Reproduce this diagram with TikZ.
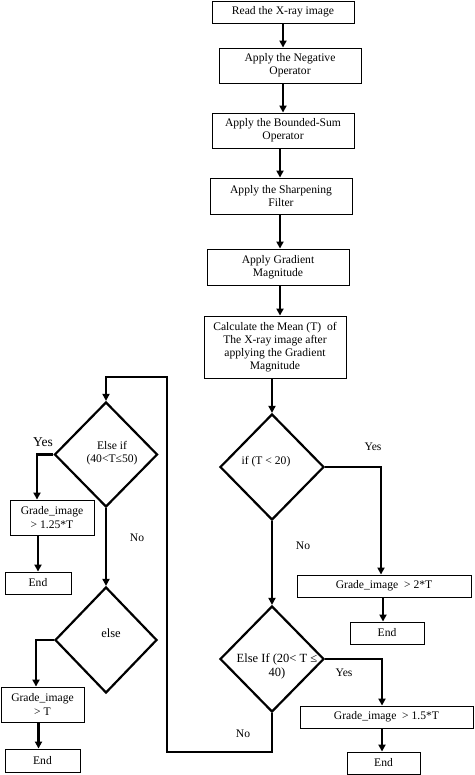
\documentclass[tikz,border=0pt]{standalone}
\usepackage{fontspec}
\setmainfont{Liberation Serif}
\usetikzlibrary{shapes.geometric,arrows.meta}
\begin{document}
\begin{tikzpicture}[x=1pt,y=-1pt,
  font=\fontsize{11.6}{13.2}\selectfont,
  box/.style={draw,line width=0.9pt,align=center,inner sep=0pt},
  dia/.style={draw,diamond,line width=2.2pt,inner sep=0pt},
  arr/.style={line width=2.2pt,-{Triangle[length=7pt,width=7pt]}},
  lbl/.style={inner sep=0pt,align=center}]
\useasboundingbox (0,0) rectangle (474,775);
% process boxes
\node[box,minimum width=142pt,minimum height=22pt] (b1) at (283,12) {Read the X-ray image};
\node[box,minimum width=142pt,minimum height=35pt] (b2) at (290,65.5) {Apply the Negative\\Operator};
\node[box,minimum width=142pt,minimum height=35pt] (b3) at (283,130.5) {Apply the Bounded-Sum\\Operator};
\node[box,minimum width=142pt,minimum height=36pt] (b4) at (281,196) {Apply the Sharpening\\Filter};
\node[box,minimum width=142pt,minimum height=36pt] (b5) at (278,267) {Apply Gradient\\Magnitude};
\node[box,minimum width=142pt,minimum height=62pt] (b6) at (275,347) {Calculate the Mean (T)~ of\\The X-ray image after\\applying the Gradient\\Magnitude};
% decisions
\node[dia,minimum width=104pt,minimum height=106pt] (d1) at (272,467) {};
\node[dia,minimum width=104pt,minimum height=106pt] (d2) at (272,659) {};
\node[dia,minimum width=103pt,minimum height=105pt] (d3) at (106,454.5) {};
\node[dia,minimum width=102pt,minimum height=106pt] (d4) at (106,640) {};
\node[lbl] (t1) at (266,462) {if (T < 20)};
\node[lbl,font=\fontsize{12.5}{14}\selectfont] (t2) at (277,666) {Else If (20< T ≤\\40)};
\node[lbl] (t3) at (112,453.5) {Else if\\(40<T≤50)};
\node[lbl,font=\fontsize{12.5}{14}\selectfont] (t4) at (111,633) {else};
% results
\node[box,minimum width=174pt,minimum height=22pt] (g1) at (384,586) {Grade\_image~ > 2*T};
\node[box,minimum width=74pt,minimum height=22pt] (e1) at (387,633) {End};
\node[box,minimum width=173pt,minimum height=22pt] (g2) at (386.5,717) {Grade\_image~ > 1.5*T};
\node[box,minimum width=73pt,minimum height=22pt] (e2) at (383.5,763) {End};
\node[box,minimum width=84pt,minimum height=35pt] (g3) at (52,517.5) {Grade\_image\\> 1.25*T};
\node[box,minimum width=66pt,minimum height=22pt] (e3) at (38,583) {End};
\node[box,minimum width=83pt,minimum height=35pt] (g4) at (42.5,704.5) {Grade\_image\\> T};
\node[box,minimum width=75pt,minimum height=23pt] (e4) at (42.5,760.5) {End};
% coordinates for routing
\coordinate (r1) at (381,467);
\coordinate (r2) at (382,659);
\coordinate (l1) at (167,752);
\coordinate (l2) at (167,377);
\coordinate (r3) at (37,454.5);
\coordinate (r4) at (36,640);
% connectors
\draw[arr] (b1.south) -- (b1.south |- b2.north);
\draw[arr] ([xshift=-7pt]b2.south) -- ([xshift=-7pt]b2.south |- b3.north);
\draw[arr] ([xshift=-3pt]b3.south) -- ([xshift=-3pt]b3.south |- b4.north);
\draw[arr] ([xshift=-1pt]b4.south) -- ([xshift=-1pt]b4.south |- b5.north);
\draw[arr] ([xshift=2pt]b5.south) -- ([xshift=2pt]b5.south |- b6.north);
\draw[arr] (b6.south -| d1.north) -- (d1.north);
\draw[arr] (d1.east) -- (r1) -- (r1 |- g1.north);
\draw[arr] ([xshift=-1pt]g1.south) -- ([xshift=-1pt]g1.south |- e1.north);
\draw[arr] (d1.south) -- (d2.north);
\draw[arr] (d2.east) -- (r2) -- (r2 |- g2.north);
\draw[arr] (r2 |- g2.south) -- (r2 |- e2.north);
\draw[arr] (d2.south) |- (l1) -- (l2) -| (d3.north);
\draw[arr] (d3.west) -- (r3) -- (r3 |- g3.north);
\draw[arr] (e3.north |- g3.south) -- (e3.north);
\draw[arr] (d3.south) -- (d4.north);
\draw[arr] (d4.west) -- (r4) -- (r4 |- g4.north);
\draw[arr] ([xshift=-4pt]g4.south) -- ([xshift=-4pt]g4.south |- e4.north);
% labels
\node[lbl] (y1) at (373,447) {Yes};
\node[lbl] (n1) at (303,546) {No};
\node[lbl] (y2) at (344,673) {Yes};
\node[lbl] (n2) at (243,734) {No};
\node[lbl,font=\fontsize{13.5}{15}\selectfont] (y3) at (43,442) {Yes};
\node[lbl] (n3) at (137,538) {No};
\end{tikzpicture}
\end{document}
